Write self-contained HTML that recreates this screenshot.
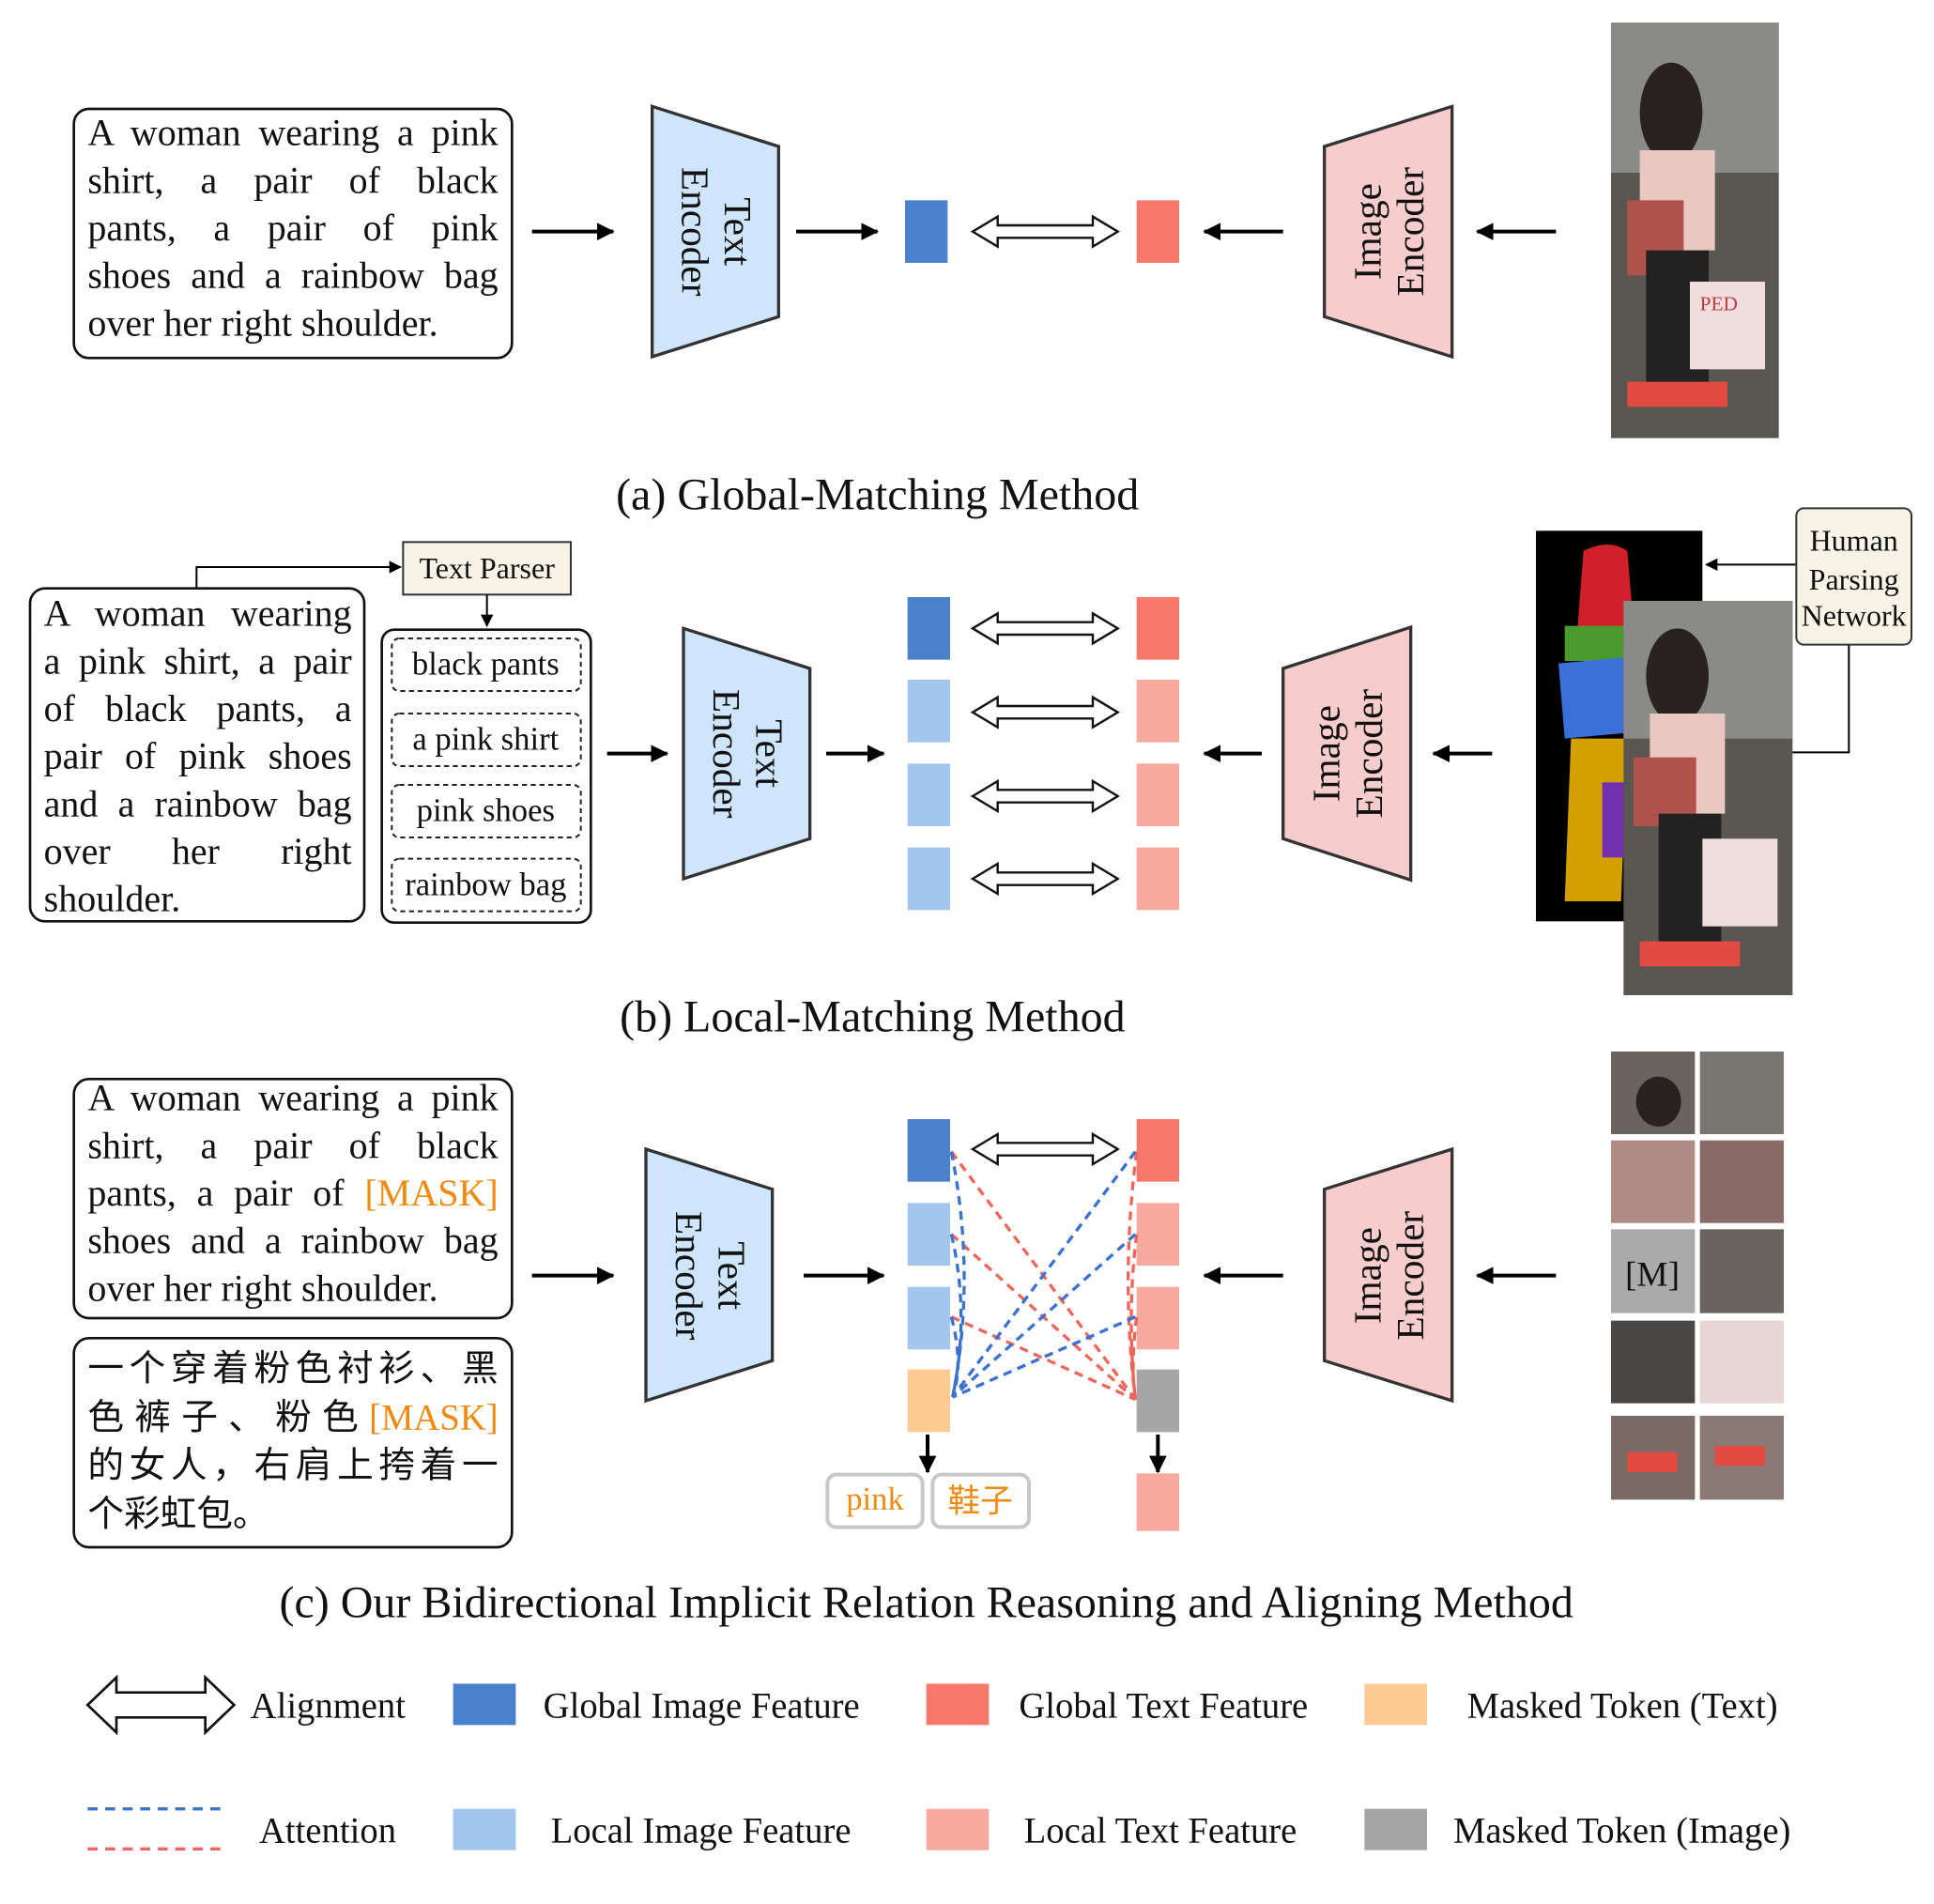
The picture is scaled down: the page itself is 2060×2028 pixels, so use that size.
<!DOCTYPE html>
<html><head><meta charset="utf-8"><style>
html,body{margin:0;padding:0;background:#fff}
svg{display:block}
text{font-family:"Liberation Serif","Noto Serif CJK SC",serif;fill:#111}
.cjk{font-family:"Liberation Serif","Noto Sans CJK SC",sans-serif}
.jb{font-family:"Liberation Serif",serif;font-size:30px;line-height:38px;color:#111}
.jb div{height:38px;overflow:hidden;text-align:justify;text-align-last:justify}
.jb div.l{text-align-last:left}
.jc{font-family:"Liberation Serif","Noto Sans CJK SC",sans-serif;font-size:29px;line-height:38.5px;color:#111}
.jc div{height:38.5px;overflow:hidden;text-align:justify;text-align-last:justify;text-justify:inter-character}
.jc div.l{text-align-last:left}
.o{color:#f08a10}
</style></head><body>
<svg width="2060" height="2028" viewBox="0 0 1545 1521" xmlns="http://www.w3.org/2000/svg">
<defs>
<marker id="ah" markerWidth="10" markerHeight="10" refX="9" refY="5" orient="auto" markerUnits="userSpaceOnUse"><path d="M0,0 L10,5 L0,10 Z" fill="#000"/></marker>
<marker id="ah2" markerWidth="14" markerHeight="14" refX="13" refY="7" orient="auto" markerUnits="userSpaceOnUse"><path d="M0,0 L14,7 L0,14 Z" fill="#000"/></marker>
<g id="dbl"><polygon points="0,0 20,-12 20,-5 96,-5 96,-12 116,0 96,12 96,5 20,5 20,12" fill="#fff" stroke="#111" stroke-width="1.8"/></g>
</defs>
<g stroke="#000" stroke-width="3" fill="none" marker-end="url(#ah2)">
<line x1="425" y1="185" x2="490" y2="185"/><line x1="636" y1="185" x2="701" y2="185"/>
<line x1="1025" y1="185" x2="962" y2="185"/><line x1="1243" y1="185" x2="1180" y2="185"/>
<line x1="485" y1="602" x2="533" y2="602"/><line x1="660" y1="602" x2="706" y2="602"/>
<line x1="1008" y1="602" x2="962" y2="602"/><line x1="1192" y1="602" x2="1145" y2="602"/>
<line x1="425" y1="1019" x2="490" y2="1019"/><line x1="642" y1="1019" x2="706" y2="1019"/>
<line x1="1025" y1="1019" x2="962" y2="1019"/><line x1="1243" y1="1019" x2="1180" y2="1019"/>
<line x1="741" y1="1146" x2="741" y2="1176"/><line x1="925" y1="1146" x2="925" y2="1176"/>
</g>
<rect x="59" y="87" width="350" height="199" rx="12" fill="#fff" stroke="#111" stroke-width="2"/>
<foreignObject x="70" y="88" width="328" height="195"><div xmlns="http://www.w3.org/1999/xhtml" class="jb">
<div>A woman wearing a pink</div><div>shirt, a pair of black</div><div>pants, a pair of pink</div><div>shoes and a rainbow bag</div><div class="l">over her right shoulder.</div>
</div></foreignObject>
<polygon points="521,85 622,117 622,253 521,285" fill="#cfe5fb" stroke="#333" stroke-width="2.5"/>
<text font-size="31" text-anchor="middle" transform="translate(571,185) rotate(90)"><tspan x="0" y="-8">Text</tspan><tspan x="0" y="26">Encoder</tspan></text>
<rect x="723" y="160" width="34" height="50" fill="#4a80cc"/>
<use href="#dbl" x="777" y="185"/>
<rect x="908" y="160" width="34" height="50" fill="#f9786c"/>
<polygon points="1058,117 1160,85 1160,285 1058,253" fill="#f6cccc" stroke="#333" stroke-width="2.5"/>
<text font-size="31" text-anchor="middle" transform="translate(1109,185) rotate(-90)"><tspan x="0" y="-6">Image</tspan><tspan x="0" y="28">Encoder</tspan></text>
<rect x="1287" y="18" width="134" height="332" fill="#5a5650"/>
<rect x="1287" y="18" width="134" height="120" fill="#8a8a88"/>
<ellipse cx="1335" cy="90" rx="25" ry="40" fill="#2a2220"/>
<rect x="1310" y="120" width="60" height="80" fill="#e9c8c4"/>
<rect x="1300" y="160" width="45" height="60" fill="#b0524a"/>
<rect x="1315" y="200" width="50" height="110" fill="#222"/>
<rect x="1350" y="225" width="60" height="70" fill="#f0dede"/>
<text x="1358" y="248" font-size="16" style="fill:#c03a3a">PED</text>
<rect x="1300" y="305" width="80" height="20" fill="#e24a42"/>
<text x="701" y="407" font-size="36" text-anchor="middle">(a) Global-Matching Method</text>
<rect x="24" y="470" width="267" height="266" rx="12" fill="#fff" stroke="#111" stroke-width="2"/>
<foreignObject x="35" y="472" width="246" height="266"><div xmlns="http://www.w3.org/1999/xhtml" class="jb">
<div>A woman wearing</div><div>a pink shirt, a pair</div><div>of black pants, a</div><div>pair of pink shoes</div><div>and a rainbow bag</div><div>over her right</div><div class="l">shoulder.</div>
</div></foreignObject>
<polyline points="157,470 157,453 320,453" fill="none" stroke="#000" stroke-width="1.5" marker-end="url(#ah)"/>
<rect x="322" y="433" width="134" height="42" fill="#f7f3e6" stroke="#333" stroke-width="1.5"/>
<text x="389" y="462" font-size="24" text-anchor="middle">Text Parser</text>
<line x1="389" y1="475" x2="389" y2="500" stroke="#000" stroke-width="1.5" marker-end="url(#ah)"/>
<rect x="305" y="503" width="167" height="234" rx="10" fill="#fff" stroke="#111" stroke-width="2"/>
<g fill="none" stroke="#222" stroke-width="1.5" stroke-dasharray="4,3">
<rect x="313" y="510" width="151" height="42" rx="6"/><rect x="313" y="570" width="151" height="42" rx="6"/>
<rect x="313" y="627" width="151" height="42" rx="6"/><rect x="313" y="686" width="151" height="42" rx="6"/>
</g>
<g font-size="26" text-anchor="middle">
<text x="388" y="539">black pants</text><text x="388" y="599">a pink shirt</text>
<text x="388" y="656">pink shoes</text><text x="388" y="715">rainbow bag</text>
</g>
<polygon points="546,502 647,534 647,670 546,702" fill="#cfe5fb" stroke="#333" stroke-width="2.5"/>
<text font-size="31" text-anchor="middle" transform="translate(596,602) rotate(90)"><tspan x="0" y="-8">Text</tspan><tspan x="0" y="26">Encoder</tspan></text>
<rect x="725" y="477" width="34" height="50" fill="#4a80cc"/>
<rect x="725" y="543" width="34" height="50" fill="#a3c6ee"/>
<rect x="725" y="610" width="34" height="50" fill="#a3c6ee"/>
<rect x="725" y="677" width="34" height="50" fill="#a3c6ee"/>
<use href="#dbl" x="777" y="502"/><use href="#dbl" x="777" y="569"/><use href="#dbl" x="777" y="636"/><use href="#dbl" x="777" y="702"/>
<rect x="908" y="477" width="34" height="50" fill="#f9786c"/>
<rect x="908" y="543" width="34" height="50" fill="#f9aa9f"/>
<rect x="908" y="610" width="34" height="50" fill="#f9aa9f"/>
<rect x="908" y="677" width="34" height="50" fill="#f9aa9f"/>
<polygon points="1025,534 1127,501 1127,703 1025,670" fill="#f6cccc" stroke="#333" stroke-width="2.5"/>
<text font-size="31" text-anchor="middle" transform="translate(1076,602) rotate(-90)"><tspan x="0" y="-6">Image</tspan><tspan x="0" y="28">Encoder</tspan></text>
<rect x="1227" y="424" width="133" height="312" fill="#000"/>
<path d="M1265,440 Q1285,430 1300,440 L1305,500 L1260,505 Z" fill="#d0202a"/>
<rect x="1250" y="500" width="60" height="28" fill="#4a9a30"/>
<path d="M1245,530 L1300,525 L1305,585 L1250,590 Z" fill="#3a70d8"/>
<path d="M1255,590 L1300,590 L1295,720 L1250,720 Z" fill="#d4a000"/>
<rect x="1280" y="625" width="20" height="60" fill="#7030b0"/>
<rect x="1297" y="480" width="135" height="315" fill="#5a5650"/>
<rect x="1297" y="480" width="135" height="110" fill="#8a8a88"/>
<ellipse cx="1340" cy="540" rx="25" ry="38" fill="#2a2220"/>
<rect x="1318" y="570" width="60" height="80" fill="#e9c8c4"/>
<rect x="1305" y="605" width="50" height="55" fill="#b0524a"/>
<rect x="1325" y="650" width="50" height="110" fill="#222"/>
<rect x="1360" y="670" width="60" height="70" fill="#f0dede"/>
<rect x="1310" y="752" width="80" height="20" fill="#e24a42"/>
<line x1="1435" y1="451" x2="1363" y2="451" stroke="#000" stroke-width="1.5" marker-end="url(#ah)"/>
<polyline points="1477,515 1477,601 1432,601" fill="none" stroke="#000" stroke-width="1.5"/>
<rect x="1435" y="406" width="92" height="109" rx="6" fill="#f7f3e6" stroke="#333" stroke-width="1.5"/>
<g font-size="24" text-anchor="middle"><text x="1481" y="440">Human</text><text x="1481" y="471">Parsing</text><text x="1481" y="500">Network</text></g>
<text x="697" y="824" font-size="36" text-anchor="middle">(b) Local-Matching Method</text>
<rect x="59" y="862" width="350" height="191" rx="12" fill="#fff" stroke="#111" stroke-width="2"/>
<foreignObject x="70" y="859" width="328" height="195"><div xmlns="http://www.w3.org/1999/xhtml" class="jb">
<div>A woman wearing a pink</div><div>shirt, a pair of black</div><div>pants, a pair of <span class="o">[MASK]</span></div><div>shoes and a rainbow bag</div><div class="l">over her right shoulder.</div>
</div></foreignObject>
<rect x="59" y="1069" width="350" height="167" rx="12" fill="#fff" stroke="#111" stroke-width="2"/>
<foreignObject x="70" y="1075" width="328" height="160"><div xmlns="http://www.w3.org/1999/xhtml" class="jc">
<div>一个穿着粉色衬衫、黑</div><div>色裤子、粉色<span class="o">[MASK]</span></div><div>的女人，右肩上挎着一</div><div class="l">个彩虹包。</div>
</div></foreignObject>
<polygon points="516,918 617,950 617,1087 516,1119" fill="#cfe5fb" stroke="#333" stroke-width="2.5"/>
<text font-size="31" text-anchor="middle" transform="translate(566,1019) rotate(90)"><tspan x="0" y="-8">Text</tspan><tspan x="0" y="26">Encoder</tspan></text>
<rect x="725" y="894" width="34" height="50" fill="#4a80cc"/>
<rect x="725" y="961" width="34" height="50" fill="#a3c6ee"/>
<rect x="725" y="1028" width="34" height="50" fill="#a3c6ee"/>
<rect x="725" y="1094" width="34" height="50" fill="#fccb94"/>
<rect x="908" y="894" width="34" height="50" fill="#f9786c"/>
<rect x="908" y="961" width="34" height="50" fill="#f9aa9f"/>
<rect x="908" y="1028" width="34" height="50" fill="#f9aa9f"/>
<rect x="908" y="1094" width="34" height="50" fill="#a6a6a6"/>
<rect x="908" y="1177" width="34" height="46" fill="#f9aa9f"/>
<use href="#dbl" x="777" y="918"/>
<g fill="none" stroke-width="2.5" stroke-dasharray="7,5">
<g stroke="#f0655a">
<line x1="760" y1="920" x2="907" y2="1118"/><line x1="760" y1="986" x2="907" y2="1118"/><line x1="760" y1="1052" x2="907" y2="1118"/>
<path d="M908,920 Q895,1020 907,1118"/><path d="M908,986 Q900,1050 907,1118"/><path d="M908,1052 Q903,1090 907,1118"/>
</g>
<g stroke="#3a72d0">
<line x1="907" y1="920" x2="761" y2="1116"/><line x1="907" y1="986" x2="761" y2="1116"/><line x1="907" y1="1052" x2="761" y2="1116"/>
<path d="M760,920 Q780,1020 761,1116"/><path d="M760,986 Q775,1050 761,1116"/><path d="M760,1052 Q770,1090 761,1116"/>
</g>
</g>
<rect x="661" y="1178" width="76" height="42" rx="7" fill="#fff" stroke="#c8c8c8" stroke-width="3"/>
<rect x="745" y="1178" width="77" height="42" rx="7" fill="#fff" stroke="#c8c8c8" stroke-width="3"/>
<text x="699" y="1206" font-size="26" text-anchor="middle" style="fill:#f08a10">pink</text>
<text class="cjk" x="783" y="1208" font-size="26" text-anchor="middle" style="fill:#f08a10">鞋子</text>
<polygon points="1058,950 1160,918 1160,1119 1058,1087" fill="#f6cccc" stroke="#333" stroke-width="2.5"/>
<text font-size="31" text-anchor="middle" transform="translate(1109,1019) rotate(-90)"><tspan x="0" y="-6">Image</tspan><tspan x="0" y="28">Encoder</tspan></text>
<g>
<rect x="1287" y="840" width="67" height="66" fill="#6a6460"/><rect x="1358" y="840" width="67" height="66" fill="#7a7672"/>
<rect x="1287" y="911" width="67" height="66" fill="#b08a84"/><rect x="1358" y="911" width="67" height="66" fill="#8a6a66"/>
<rect x="1287" y="982" width="67" height="67" fill="#aaaaaa"/><rect x="1358" y="982" width="67" height="67" fill="#6a6460"/>
<rect x="1287" y="1055" width="67" height="66" fill="#4a4644"/><rect x="1358" y="1055" width="67" height="66" fill="#e6d6d4"/>
<rect x="1287" y="1131" width="67" height="67" fill="#7a6a66"/><rect x="1358" y="1131" width="67" height="67" fill="#8a7a76"/>
<ellipse cx="1325" cy="880" rx="18" ry="20" fill="#2a2220"/>
<rect x="1300" y="1160" width="40" height="16" fill="#e24a42"/><rect x="1370" y="1155" width="40" height="16" fill="#e24a42"/>
</g>
<text x="1320" y="1027" font-size="28" text-anchor="middle">[M]</text>
<text x="740" y="1292" font-size="36" text-anchor="middle">(c)  Our Bidirectional Implicit Relation Reasoning and Aligning Method</text>
<polygon points="70,1362 93,1340 93,1352 164,1352 164,1340 187,1362 164,1384 164,1372 93,1372 93,1384" fill="#fff" stroke="#111" stroke-width="2"/>
<g font-size="29">
<text x="200" y="1372">Alignment</text>
<text x="434" y="1372">Global Image Feature</text>
<text x="814" y="1372">Global Text Feature</text>
<text x="1172" y="1372">Masked Token (Text)</text>
<text x="207" y="1472">Attention</text>
<text x="440" y="1472">Local Image Feature</text>
<text x="818" y="1472">Local Text Feature</text>
<text x="1161" y="1472">Masked Token (Image)</text>
</g>
<rect x="362" y="1345" width="50" height="33" fill="#4a80cc"/>
<rect x="740" y="1345" width="50" height="33" fill="#f9786c"/>
<rect x="1090" y="1345" width="50" height="33" fill="#fccb94"/>
<rect x="362" y="1445" width="50" height="33" fill="#a3c6ee"/>
<rect x="740" y="1445" width="50" height="33" fill="#f9aa9f"/>
<rect x="1090" y="1445" width="50" height="33" fill="#a6a6a6"/>
<line x1="70" y1="1445" x2="182" y2="1445" stroke="#3a72d0" stroke-width="2.5" stroke-dasharray="8,6"/>
<line x1="70" y1="1477" x2="182" y2="1477" stroke="#f0655a" stroke-width="2.5" stroke-dasharray="8,6"/>
</svg>
</body></html>
